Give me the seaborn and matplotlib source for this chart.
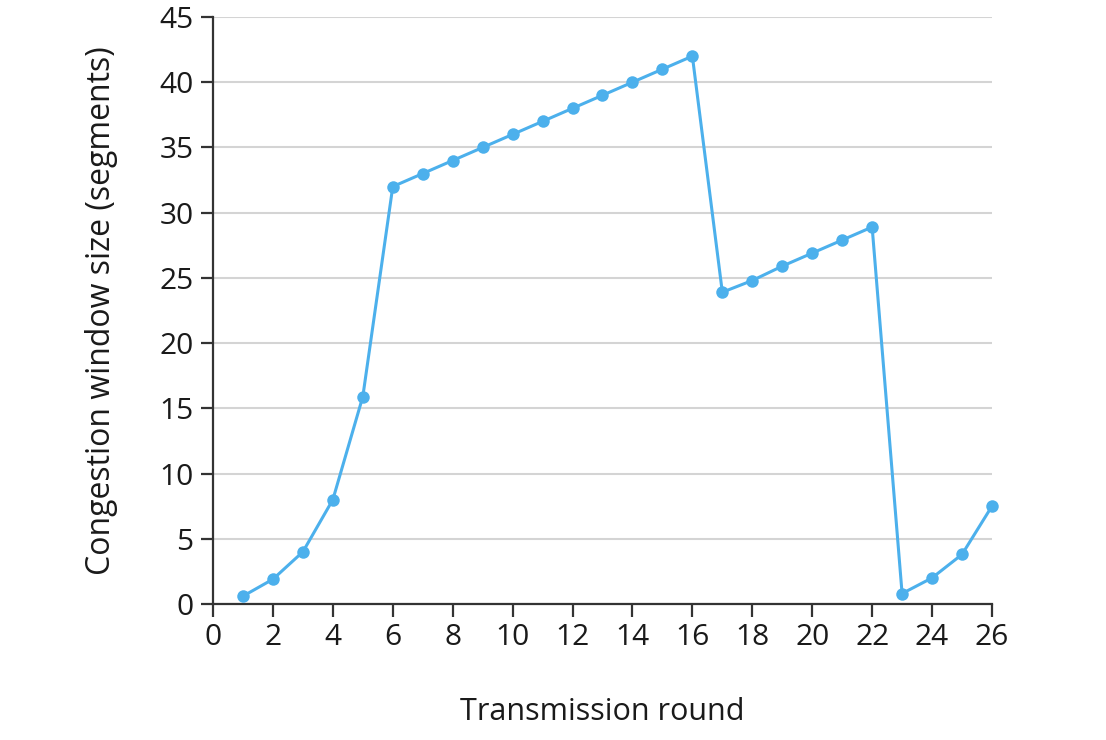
import numpy as np
import pandas as pd
import matplotlib
matplotlib.use("Agg")
import matplotlib.pyplot as plt
import seaborn as sns

# Duomenys nuskaityti nuo paveikslo
rounds = list(range(1, 27))
cwnd = [0.6, 1.9, 4.0, 8.0, 15.9, 32.0, 33.0, 34.0, 35.0, 36.0, 37.0, 38.0, 39.0,
        40.0, 41.0, 42.0, 23.9, 24.8, 25.9, 26.9, 27.9, 28.9, 0.8, 2.0, 3.8, 7.5]
x_ticks = list(range(0, 27, 2))
y_ticks = list(range(0, 46, 5))

df = pd.DataFrame({"round": rounds, "cwnd": cwnd})

sns.set_style("white")
plt.rcParams['font.family'] = ['Open Sans', 'DejaVu Sans']

fig = plt.figure(figsize=(11.06, 7.4), dpi=100)
ax = fig.add_axes([0.1926, 0.1838, 0.8969 - 0.1926, 0.977 - 0.1838])

line_color = '#4cb0ec'
sns.lineplot(data=df, x="round", y="cwnd", ax=ax, color=line_color, linewidth=2.2,
             marker='o', markersize=9, markeredgewidth=0, zorder=3, clip_on=False)

# Horizontalios tinklelio linijos
ax.set_ylim(0, 45)
ax.set_xlim(0, 26)
ax.set_yticks(y_ticks)
ax.set_xticks(x_ticks)
ax.yaxis.grid(True, color='#d4d4d4', linewidth=1.5)
ax.xaxis.grid(False)
ax.set_axisbelow(True)

for side in ['top', 'right']:
    ax.spines[side].set_visible(False)
for side in ['left', 'bottom']:
    ax.spines[side].set_color('#333333')
    ax.spines[side].set_linewidth(1.6)

ax.tick_params(axis='both', direction='out', length=9, width=1.6, color='#333333',
               labelsize=21.5, labelcolor='#1a1a1a', bottom=True, left=True)
ax.tick_params(axis='x', pad=5)
ax.tick_params(axis='y', pad=5)

ax.set_xlabel('Transmission round', fontsize=22, color='#1a1a1a', labelpad=32)
ax.set_ylabel('Congestion window size (segments)', fontsize=23, color='#1a1a1a', labelpad=30)

fig.savefig('out.png', dpi=100)
plt.close(fig)
